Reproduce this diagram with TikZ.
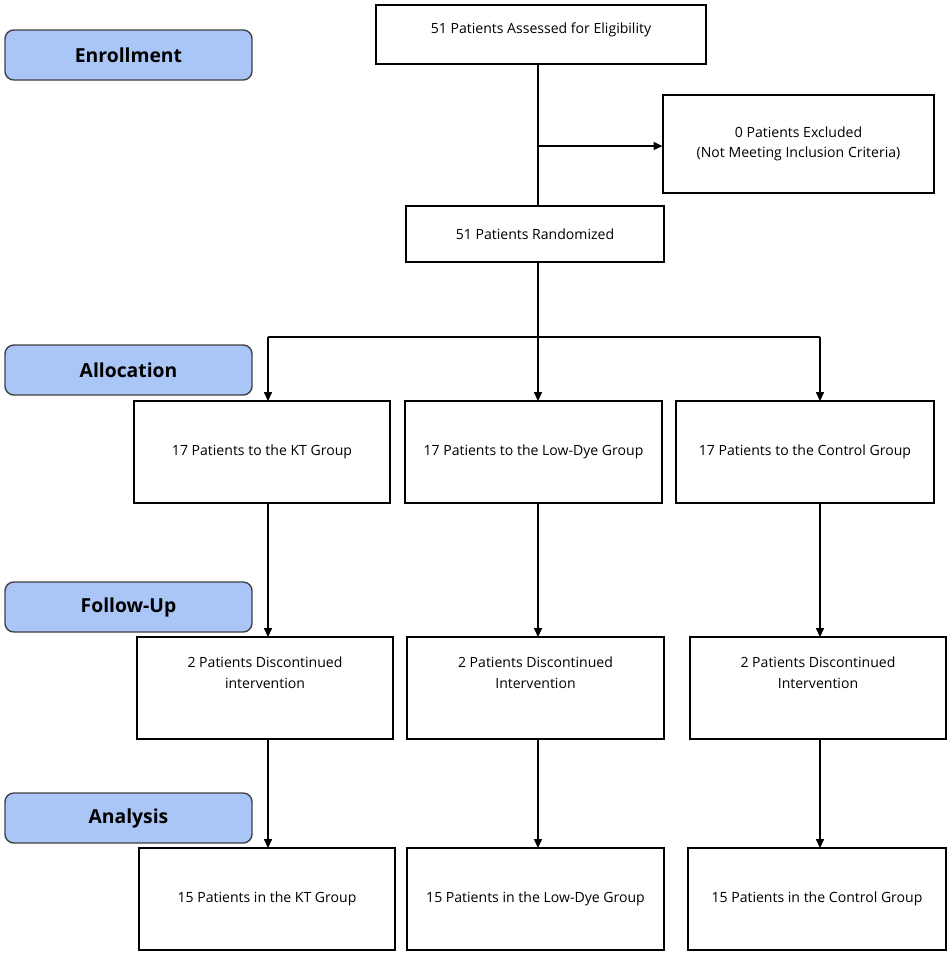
\documentclass[tikz,border=0pt]{standalone}
\usepackage{fontspec}
\setmainfont{Open Sans}
\usetikzlibrary{arrows.meta}
\definecolor{labblue}{HTML}{A9C6F7}
\begin{document}
\begin{tikzpicture}[x=0.02cm,y=-0.02cm,
 box/.style={draw=black,line width=0.6pt,fill=white,align=center,font=\fontsize{8}{11.5}\selectfont},
 lab/.style={draw=black!75,line width=0.8pt,rounded corners=5pt,fill=labblue,font=\bfseries\fontsize{11}{12}\selectfont},
 arr/.style={-{Triangle[length=5pt,width=4.5pt]},line width=0.7pt},
 ln/.style={line width=0.7pt}]
\useasboundingbox (0,0) rectangle (950,964);
\newcommand{\bx}[6]{\node[box,minimum width=(#4-#2)*0.02cm,minimum height=(#5-#3)*0.02cm] (#1) at ({(#2+#4)/2},{(#3+#5)/2}) {#6};}
\newcommand{\lb}[3]{\node[lab,minimum width=247*0.02cm,minimum height=50*0.02cm] (#1) at (128.5,#2) {#3};}
\lb{l1}{55}{Enrollment}
\lb{l2}{370}{Allocation}
\lb{l3}{607}{Follow-Up}
\lb{l4}{818}{Analysis}
\bx{a}{376}{5}{706}{64}{}
\node[font=\fontsize{8}{11.5}\selectfont] (at) at (a.center |- 0,30) {51 Patients Assessed for Eligibility};
\bx{ex}{663}{95}{934}{193}{0 Patients Excluded\\(Not Meeting Inclusion Criteria)}
\bx{r}{406}{206}{664}{262}{51 Patients Randomized}
\bx{g1}{134}{401}{390}{503}{17 Patients to the KT Group}
\bx{g2}{405}{401}{662}{503}{17 Patients to the Low-Dye Group}
\bx{g3}{676}{401}{934}{503}{17 Patients to the Control Group}
\bx{f1}{137}{637}{393}{739}{2 Patients Discontinued\\intervention\\[6pt]}
\bx{f2}{407}{637}{664}{739}{2 Patients Discontinued\\Intervention\\[6pt]}
\bx{f3}{690}{637}{946}{739}{2 Patients Discontinued\\Intervention\\[6pt]}
\bx{n1}{139}{848}{395}{950}{15 Patients in the KT Group}
\bx{n2}{407}{848}{664}{950}{15 Patients in the Low-Dye Group}
\bx{n3}{688}{848}{946}{950}{15 Patients in the Control Group}
\coordinate (b) at (538,146);
\coordinate (s) at (538,337);
\draw[ln] (a.south -| b) -- (r.north -| b);
\draw[arr] (b) -- (ex.west |- b);
\draw[ln] (r.south -| s) -- (s);
\draw[ln] (268,337) -- (820,337);
\draw[arr] (268,337) -- (268,401);
\draw[arr] (s) -- (538,401);
\draw[arr] (820,337) -- (820,401);
\draw[arr] (268,503) -- (268,637);
\draw[arr] (538,503) -- (538,637);
\draw[arr] (820,503) -- (820,637);
\draw[arr] (268,739) -- (268,848);
\draw[arr] (538,739) -- (538,848);
\draw[arr] (820,739) -- (820,848);
\end{tikzpicture}
\end{document}
